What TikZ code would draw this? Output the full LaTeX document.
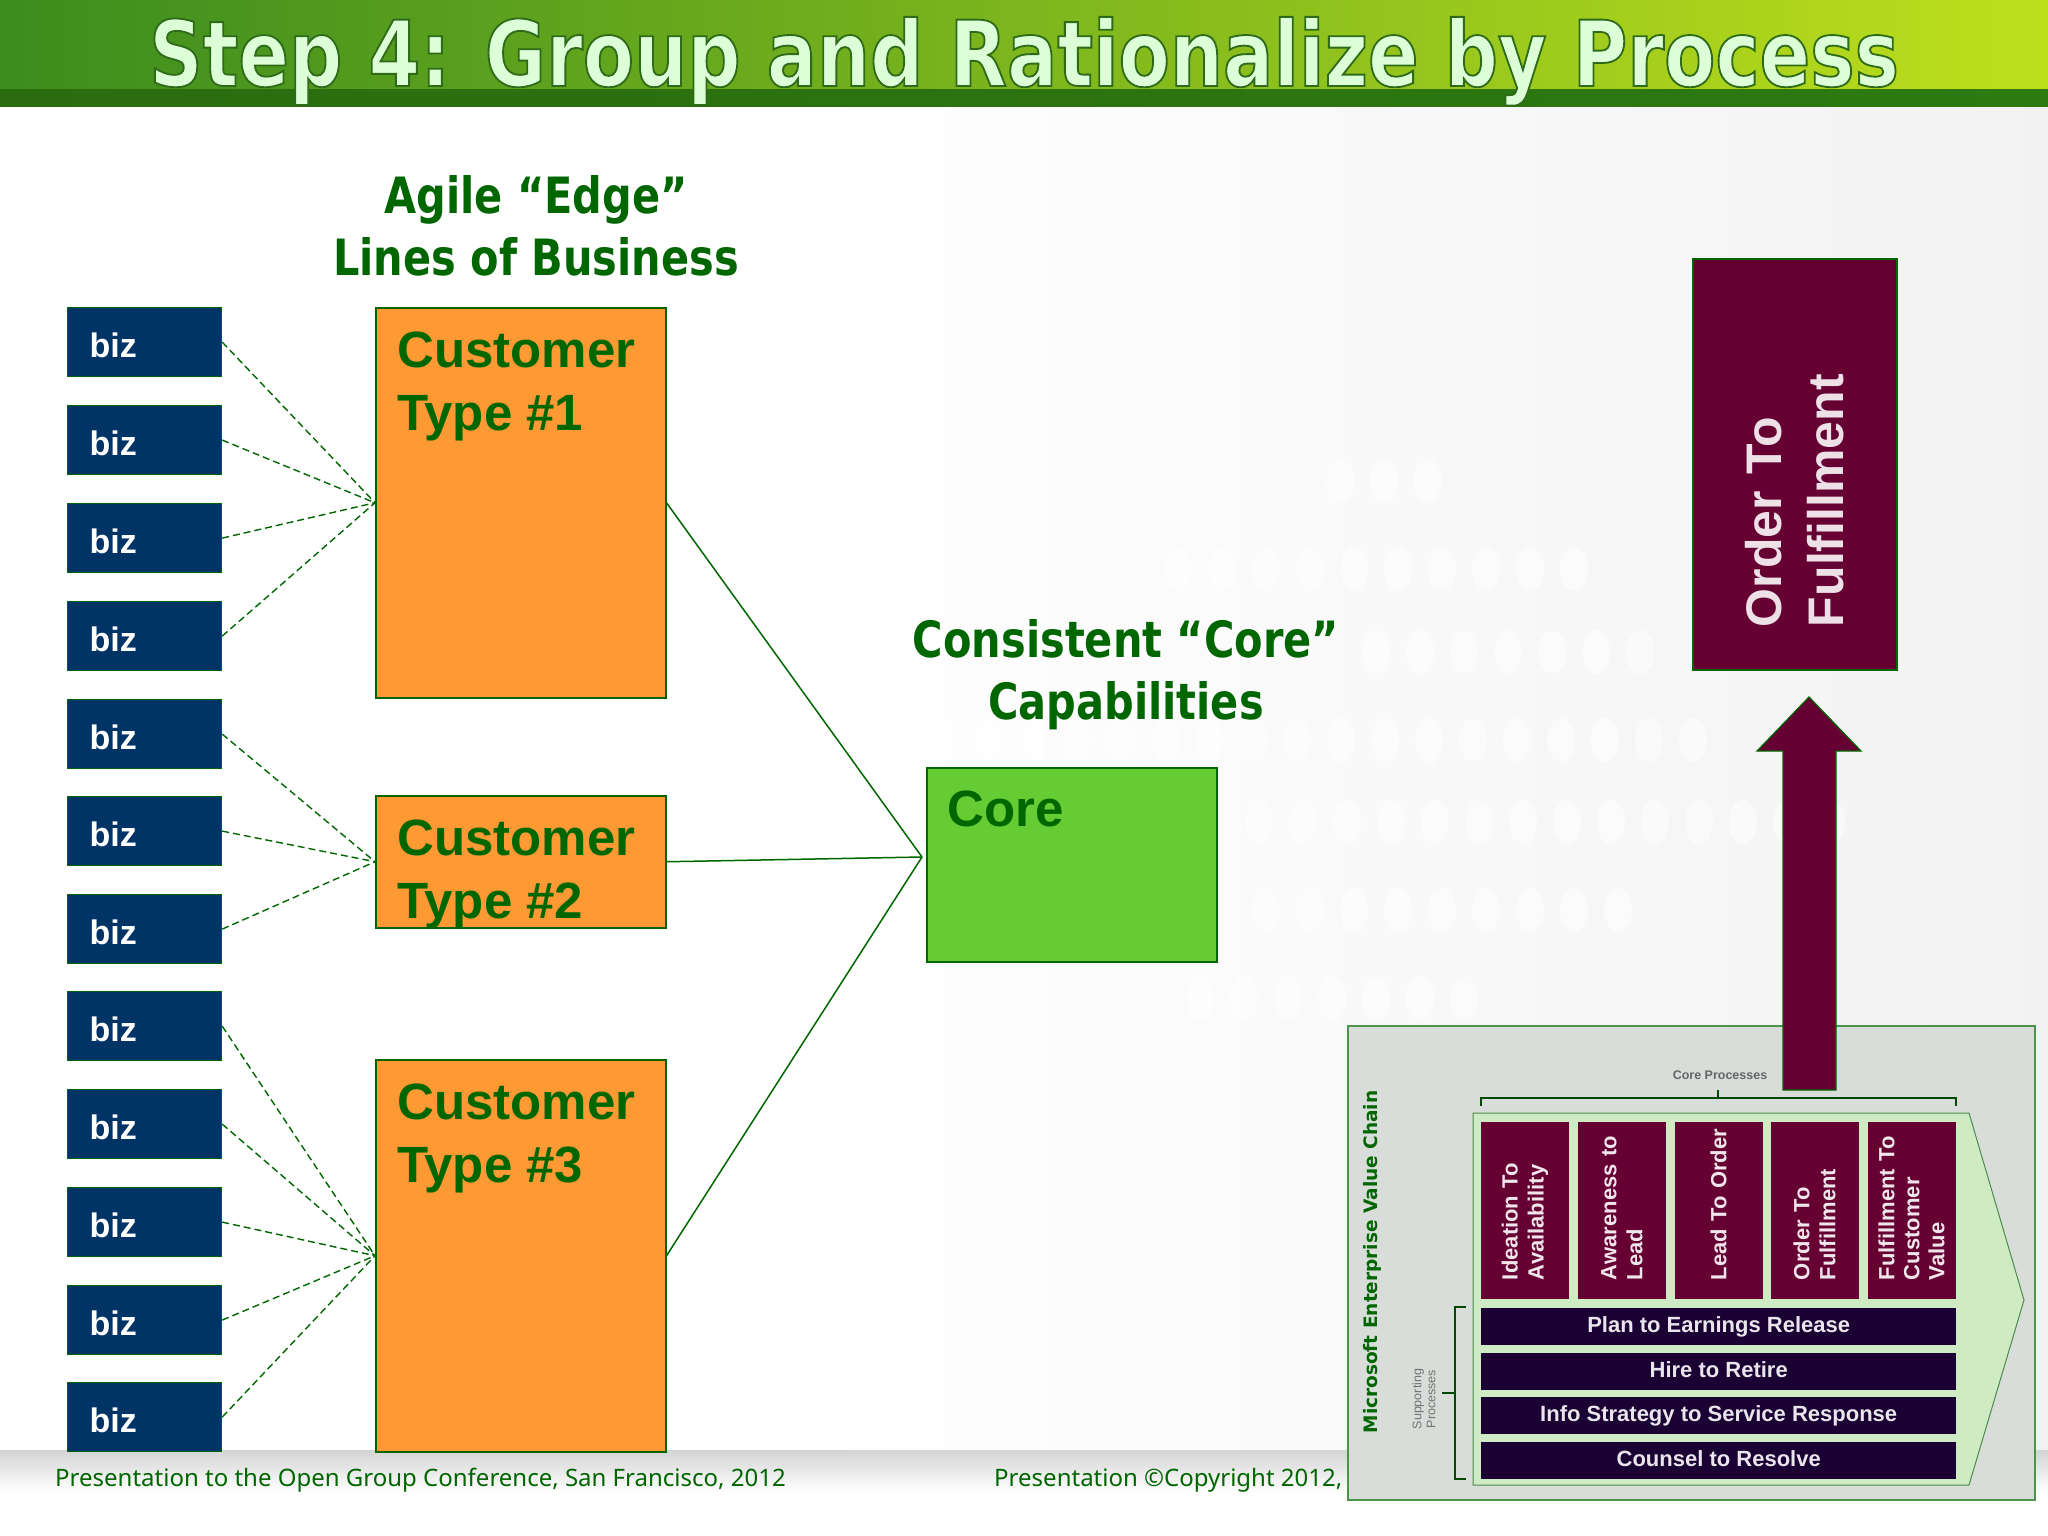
\documentclass[tikz,border=0pt]{standalone}
\usepackage{fontspec}
\setmainfont{Liberation Sans}
\newfontfamily\headfont[BoldFeatures={FakeStretch=0.83}]{DejaVu Sans}
\newfontfamily\titlefont[BoldFeatures={FakeStretch=0.82,FakeBold=2}]{DejaVu Sans}
\newfontfamily\footfont{Noto Sans}
\newfontfamily\insetfont{DejaVu Sans}
\newcommand{\outlinecol}{\special{pdf:code 0.18 0.42 0.10 RG}}
\definecolor{edgegreen}{HTML}{006600}
\definecolor{bizblue}{HTML}{003366}
\definecolor{custorange}{HTML}{FF9933}
\definecolor{coregreen}{HTML}{66CC33}
\definecolor{maroon}{HTML}{660033}
\definecolor{barnavy}{HTML}{1A0033}
\definecolor{insetgray}{HTML}{D9DDD9}
\definecolor{chevgreen}{HTML}{CFEBC4}
\definecolor{titlefill}{HTML}{DDFFD8}
\definecolor{headleft}{HTML}{3C8C1E}
\definecolor{headmid}{HTML}{5EA51E}
\definecolor{headright}{HTML}{BEDF1C}
\definecolor{bandleft}{HTML}{2B6C10}
\definecolor{bandmid}{HTML}{3B8513}
\definecolor{bandright}{HTML}{2C7A10}
\tikzset{
  bizbox/.style={draw=edgegreen, line width=1.2pt, fill=bizblue, text=white, anchor=north west,
    minimum height=69pt, inner xsep=22pt, inner ysep=0pt, text width=110pt, align=left,
    text height=31pt, text depth=0pt, font=\bfseries\fontsize{34}{34}\selectfont},
  custbox/.style={draw=edgegreen, line width=1.5pt, fill=custorange, anchor=north west,
    minimum width=290pt, inner sep=0pt},
  custtext/.style={text=edgegreen, anchor=north west, inner sep=0pt, align=left,
    font=\bfseries\fontsize{51}{63}\selectfont},
  headtext/.style={text=edgegreen, align=center, inner sep=0pt,
    font=\headfont\bfseries\fontsize{50}{62}\selectfont},
  dashline/.style={edgegreen, dash pattern=on 7pt off 4pt, line width=1.4pt},
  coreline/.style={edgegreen, line width=1.5pt},
  colbox/.style={fill=maroon, text=white!90!maroon, rotate=90, minimum height=88pt, minimum width=177pt,
    inner xsep=19pt, inner ysep=0pt, text width=139pt, align=left,
    font=\bfseries\fontsize{22}{26}\selectfont},
  barbox/.style={fill=barnavy, text=white!90!barnavy, anchor=north west, minimum width=475pt,
    minimum height=37pt, inner sep=0pt, text height=16pt, text depth=5pt, font=\bfseries\fontsize{22}{22}\selectfont},
}
\begin{document}
\begin{tikzpicture}[x=1pt, y=-1pt]
  \useasboundingbox (0, 0) rectangle (2048, 1536);
  % slide background
  \fill [white] (0, 0) rectangle (2048, 1536);
  \shade [left color=white, right color=black!5] (800, 107) rectangle (2048, 1450);
  \foreach \y/\a/\b in {481/1340/1440, 569/1178/1617, 652/1376/1676, 740/945/1705, 822/1259/1844, 910/1266/1630, 998/1200/1500} {
    \foreach \x in {\a,\the\numexpr\a+44\relax,...,\b}
      \fill [white, opacity=0.5] (\x, \y) ellipse (14pt and 22pt);
  }
  \shade [top color=black!17, bottom color=white] (0, 1450) rectangle (2048, 1492);

  % title band
  \shade [left color=headleft, middle color=headmid, right color=headright] (0, 0) rectangle (2048, 90);
  \shade [left color=bandleft, middle color=bandmid, right color=bandright] (0, 90) rectangle (2048, 107);
  \node [text=titlefill, anchor=base, inner sep=0pt] (title) at (1024, 86)
    {\titlefont\bfseries\fontsize{91}{91}\selectfont\outlinecol Step 4: Group and Rationalize by Process};

  \node [headtext] (edgehead) at (536, 226) {Agile “Edge”\\Lines of Business};
  \node [headtext] (corehead) at (1126, 675) {Consistent “Core”\\Capabilities};

  % the biz boxes
  \foreach \i/\y in {1/307, 2/405, 3/503, 4/601, 5/699, 6/796, 7/894, 8/991, 9/1089, 10/1187, 11/1285, 12/1382}
    \node [bizbox] (biz\i) at (67, \y) {biz};

  \node [custbox, minimum height=390pt] (cust1) at (375, 307) {};
  \node [custbox, minimum height=132pt] (cust2) at (375, 795) {};
  \node [custbox, minimum height=392pt] (cust3) at (375, 1059) {};
  \node [custtext] (cust1text) at (397, 332) {Customer\\Type \#1};
  \node [custtext] (cust2text) at (397, 820) {Customer\\Type \#2};
  \node [custtext] (cust3text) at (397, 1084) {Customer\\Type \#3};

  \foreach \i in {1,2,3,4}
    \draw [dashline] (biz\i.east) -- (cust1.west);
  \foreach \i in {5,6,7}
    \draw [dashline] (biz\i.east) -- (cust2.west);
  \foreach \i in {8,9,10,11,12}
    \draw [dashline] (biz\i.east) -- (cust3.west);

  \node [custbox, fill=coregreen, minimum height=194pt, anchor=north west] (core) at (926, 767) {};
  \node [custtext] (coretext) at (947, 791) {Core};
  \coordinate (corehub) at (922, 857);
  \foreach \i in {1,2,3}
    \draw [coreline] (cust\i.east) -- (corehub);

  \node [draw=edgegreen, line width=1.5pt, fill=maroon, text=white!88!maroon, rotate=90, minimum width=411pt,
    minimum height=204pt, inner xsep=43pt, inner ysep=0pt, text width=325pt, align=left,
    font=\bfseries\fontsize{50}{62}\selectfont] (orderbox) at (1795, 464.5) {Order To\\Fulfillment};

  % picture in the corner
  \node [draw=green!40!black!70, line width=1.5pt, fill=insetgray, anchor=north west, minimum width=687pt,
    minimum height=474pt, inner sep=0pt] (inset) at (1347, 1025) {};
  \draw [green!35!black!70, line width=1pt, fill=chevgreen] (1473, 1113) -- (1969, 1113) -- (2024, 1300)
    -- (1969, 1485) -- (1473, 1485) -- cycle;
  \node [colbox] (col1) at (1525, 1210.5) {Ideation To\\Availability};
  \node [colbox] (col2) at (1622, 1210.5) {\mbox{Awareness to}\\Lead};
  \node [colbox] (col3) at (1718.5, 1210.5) {\mbox{Lead To Order}};
  \node [colbox] (col4) at (1814.5, 1210.5) {Order To\\Fulfillment};
  \node [colbox, font=\bfseries\fontsize{22}{25}\selectfont] (col5) at (1911.5, 1210.5) {\mbox{Fulfillment To}\\Customer\\Value};
  \node [barbox] (bar1) at (1481, 1308) {Plan to Earnings Release};
  \node [barbox] (bar2) at (1481, 1353) {Hire to Retire};
  \node [barbox] (bar3) at (1481, 1397) {Info Strategy to Service Response};
  \node [barbox] (bar4) at (1481, 1442) {Counsel to Resolve};
  \node [text=edgegreen, rotate=90, inner sep=0pt, font=\insetfont\bfseries\fontsize{18.5}{20}\selectfont] (chainlabel) at (1372, 1262)
    {Microsoft Enterprise Value Chain};
  \node [text=black!60, inner sep=0pt, font=\bfseries\fontsize{12.5}{13}\selectfont] (corelabel) at (1720, 1075) {Core Processes};
  \node [text=black!55, rotate=90, inner sep=0pt, align=center, font=\fontsize{12.5}{14}\selectfont] (suplabel) at (1424, 1399)
    {Supporting\\Processes};
  \draw [edgegreen!70!black, line width=2pt] (1481, 1106) -- (1481, 1098) -- (1956, 1098) -- (1956, 1106);
  \draw [edgegreen!70!black, line width=2pt] (1718, 1098) -- (1718, 1090);
  \draw [edgegreen!70!black, line width=2pt] (1466, 1307) -- (1455, 1307) -- (1455, 1479) -- (1466, 1479);
  \draw [edgegreen!70!black, line width=2pt] (1455, 1393) -- (1442, 1393);

  % the arrow goes over the corner picture
  \draw [edgegreen, line width=1.2pt, fill=maroon] (1783, 1090) -- (1783, 751) -- (1757, 751) -- (1809, 697)
    -- (1861, 751) -- (1836, 751) -- (1836, 1090) -- cycle;

  % footer
  \node [text=edgegreen, anchor=base west, inner sep=0pt, font=\footfont\fontsize{24}{24}\selectfont] (footleft) at (55, 1486)
    {Presentation to the Open Group Conference, San Francisco, 2012};
  \node [text=edgegreen, anchor=base west, inner sep=0pt, font=\footfont\fontsize{24}{24}\selectfont] (footright) at (994, 1486)
    {Presentation ©Copyright 2012,};
\end{tikzpicture}
\end{document}
